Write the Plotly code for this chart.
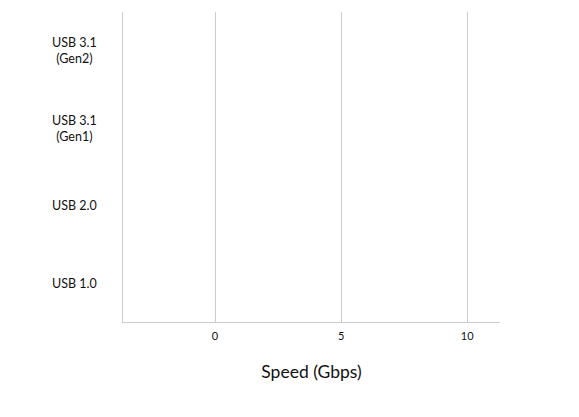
import plotly.graph_objects as go

categories = ["USB 1.0", "USB 2.0", "USB 3.1<br>(Gen1)", "USB 3.1<br>(Gen2)"]
# No bars are visible in the reference, so every visible bar length reads as 0
speeds = [0, 0, 0, 0]
x_ticks = [0, 5, 10]

fig = go.Figure(
    go.Bar(
        y=categories,
        x=speeds,
        orientation="h",
        marker=dict(color="#4e79a7", line=dict(width=0)),
        showlegend=False,
    )
)

# Category labels drawn as centred multi-line annotations (like the reference)
for cat in categories:
    fig.add_annotation(
        x=0, xref="paper", xanchor="right",
        y=cat, yref="y", yanchor="middle",
        text=cat, showarrow=False, align="center",
        xshift=-24,
        font=dict(size=12.5, color="#111111"),
    )

fig.update_layout(
    width=579,
    height=417,
    margin=dict(l=115, r=87, t=4, b=103),
    paper_bgcolor="white",
    plot_bgcolor="white",
    font=dict(family="Lato, Open Sans, sans-serif", color="#111111"),
    xaxis=dict(
        range=[-3.65, 11.3],
        tickvals=x_ticks,
        ticktext=[str(v) for v in x_ticks],
        showgrid=True,
        gridcolor="#cccccc",
        gridwidth=1,
        zeroline=False,
        showline=True,
        linecolor="#cccccc",
        linewidth=1,
        ticks="",
        ticklabelstandoff=4,
        tickfont=dict(size=11),
        title=dict(text="Speed (Gbps)", font=dict(size=17.5), standoff=24),
    ),
    yaxis=dict(
        categoryorder="array",
        categoryarray=categories,
        showgrid=False,
        zeroline=False,
        showline=True,
        linecolor="#cccccc",
        linewidth=1,
        ticks="",
        showticklabels=False,
    ),
)

fig.write_html("out.html")
